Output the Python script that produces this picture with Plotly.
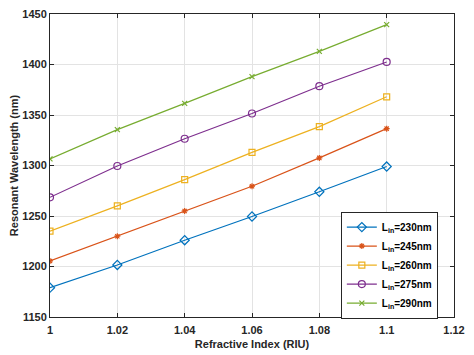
import plotly.graph_objects as go

refractive_index = [1.00, 1.02, 1.04, 1.06, 1.08, 1.10]
wl_230 = [1179, 1201.5, 1226, 1249.5, 1274, 1299]
wl_245 = [1205.5, 1230, 1255, 1279.5, 1307.5, 1336.5]
wl_260 = [1235, 1260, 1286, 1313, 1338.5, 1368]
wl_275 = [1268.5, 1299.5, 1326.5, 1351.5, 1378.5, 1402.5]
wl_290 = [1306.5, 1335.5, 1361.5, 1388, 1413, 1439.5]

series_names = ["L<sub>in</sub>=230nm", "L<sub>in</sub>=245nm", "L<sub>in</sub>=260nm",
                "L<sub>in</sub>=275nm", "L<sub>in</sub>=290nm"]
series_values = [wl_230, wl_245, wl_260, wl_275, wl_290]
colors = ["#0072BD", "#D95319", "#EDB120", "#7E2F8E", "#77AC30"]
symbols = ["diamond-open", "asterisk-open", "square-open", "circle-open", "x-thin-open"]
sizes = [7, 5, 6, 7, 5]

x_ticks = [1.0, 1.02, 1.04, 1.06, 1.08, 1.1, 1.12]
x_tick_labels = ["1", "1.02", "1.04", "1.06", "1.08", "1.1", "1.12"]
y_ticks = [1150, 1200, 1250, 1300, 1350, 1400, 1450]

fig = go.Figure()
for name, vals, c, s, sz in zip(series_names, series_values, colors, symbols, sizes):
    fig.add_trace(go.Scatter(
        x=refractive_index, y=vals, name=name, mode="lines+markers",
        line=dict(color=c, width=1.2),
        marker=dict(symbol=s, size=sz, color=c, line=dict(color=c, width=1.2)),
    ))

bold = dict(family="Liberation Sans", size=11, color="#262626", weight="bold")

axis_common = dict(
    showline=True, linecolor="#262626", linewidth=1, mirror="ticks",
    ticks="inside", ticklen=4, tickcolor="#262626",
    showgrid=True, gridcolor="#e3e3e3", gridwidth=1, zeroline=False,
    tickfont=bold, automargin=False, ticklabeloverflow="allow",
)

# page body has an 8px default margin, so the figure is offset by 8px
fig.update_layout(
    width=466, height=347,
    margin=dict(l=42, r=20, t=6, b=38),
    paper_bgcolor="white", plot_bgcolor="white",
    font=dict(family="Liberation Sans", color="#262626"),
    xaxis=dict(range=[1.0, 1.12], tickvals=x_ticks, ticktext=x_tick_labels,
               ticklabelstandoff=3,
               title=dict(text="Refractive Index (RIU)", font=bold, standoff=5),
               **axis_common),
    yaxis=dict(range=[1150, 1450], tickvals=y_ticks,
               title=dict(text="Resonant Wavelength (nm)", font=bold, standoff=6),
               **axis_common),
    legend=dict(x=0.96, y=0.348, xanchor="right", yanchor="top",
                bgcolor="white", bordercolor="#262626", borderwidth=1,
                font=dict(family="Liberation Sans", size=10, color="#000", weight="bold"),
                tracegroupgap=0, itemwidth=30),
    showlegend=True,
)

fig.write_html("out.html")
